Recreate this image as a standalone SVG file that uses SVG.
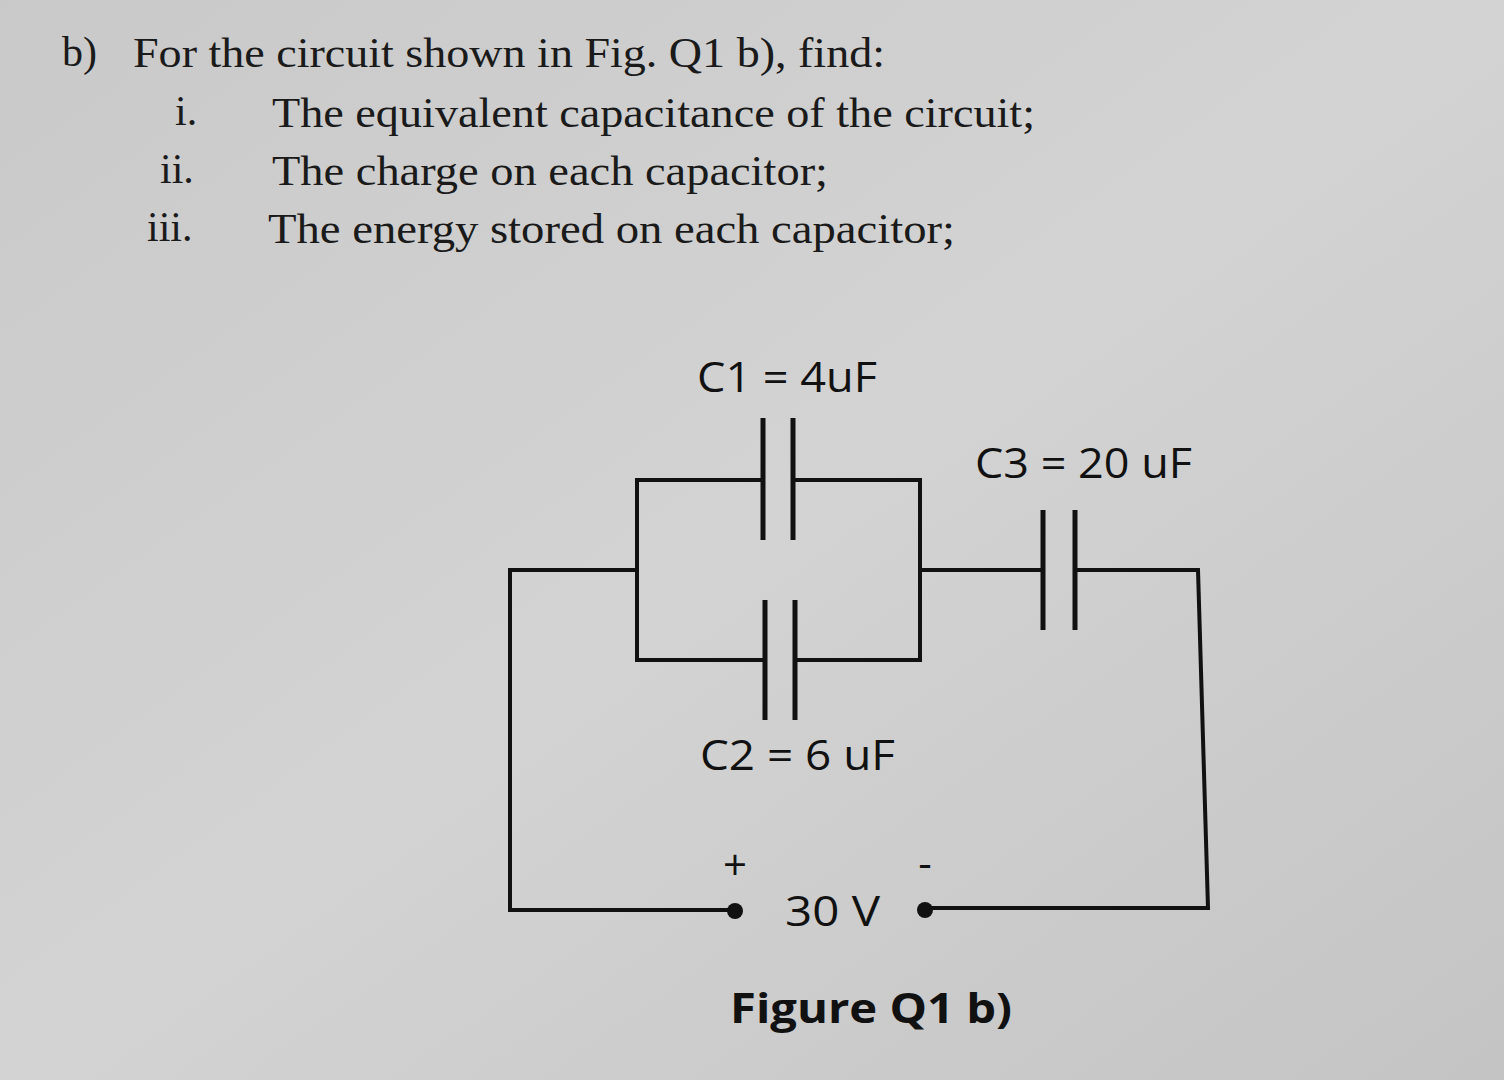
<svg xmlns="http://www.w3.org/2000/svg" width="1504" height="1080" viewBox="0 0 1504 1080">
<defs>
<linearGradient id="bg" x1="0" y1="0" x2="1" y2="1">
<stop offset="0" stop-color="#c9c9c9"/><stop offset="0.5" stop-color="#d3d3d3"/><stop offset="1" stop-color="#c4c4c4"/>
</linearGradient>
<style>
.q{font-family:"Liberation Serif",serif;font-size:42px;fill:#1a1a1a}
.l{font-family:"Open Sans","Liberation Sans",sans-serif;font-size:42px;fill:#111}
.w{stroke:#111;stroke-width:4;fill:none}
.p{stroke:#111;stroke-width:5;fill:none}
</style>
</defs>
<rect width="1504" height="1080" fill="url(#bg)"/>
<g id="question">
<text class="q" x="62" y="66">b)</text>
<text class="q" x="133" y="67" textLength="752" lengthAdjust="spacingAndGlyphs">For the circuit shown in Fig. Q1 b), find:</text>
<text class="q" x="175" y="125">i.</text>
<text class="q" x="272" y="127" textLength="763" lengthAdjust="spacingAndGlyphs">The equivalent capacitance of the circuit;</text>
<text class="q" x="160" y="183">ii.</text>
<text class="q" x="272" y="185" textLength="556" lengthAdjust="spacingAndGlyphs">The charge on each capacitor;</text>
<text class="q" x="147" y="241">iii.</text>
<text class="q" x="268" y="243" textLength="687" lengthAdjust="spacingAndGlyphs">The energy stored on each capacitor;</text>
</g>
<g id="connectors">
<path class="w" d="M763 480H637V660H765M795 660H920V480H793"/>
<path class="w" d="M637 570H510V910H735"/>
<path class="w" d="M918 570H1043M1075 570H1198L1208 908H925"/>
</g>
<g id="C1"><path class="p" d="M763 418V540M793 418V540"/><text class="l" x="697" y="392" textLength="180" lengthAdjust="spacingAndGlyphs">C1 = 4uF</text></g>
<g id="C2"><path class="p" d="M765 600V720M795 600V720"/><text class="l" x="700" y="770" textLength="195" lengthAdjust="spacingAndGlyphs">C2 = 6 uF</text></g>
<g id="C3"><path class="p" d="M1043 510V630M1075 510V630"/><text class="l" x="975" y="478" textLength="217" lengthAdjust="spacingAndGlyphs">C3 = 20 uF</text></g>
<g id="source">
<circle cx="735" cy="911" r="8" fill="#111"/><circle cx="925" cy="910" r="8" fill="#111"/>
<text class="l" x="735" y="880" text-anchor="middle">+</text>
<text class="l" x="925" y="878" text-anchor="middle">-</text>
<text class="l" x="785" y="926" textLength="95" lengthAdjust="spacingAndGlyphs">30 V</text>
</g>
<text class="l" x="730" y="1023" font-weight="bold" textLength="282" lengthAdjust="spacingAndGlyphs">Figure Q1 b)</text>
</svg>
